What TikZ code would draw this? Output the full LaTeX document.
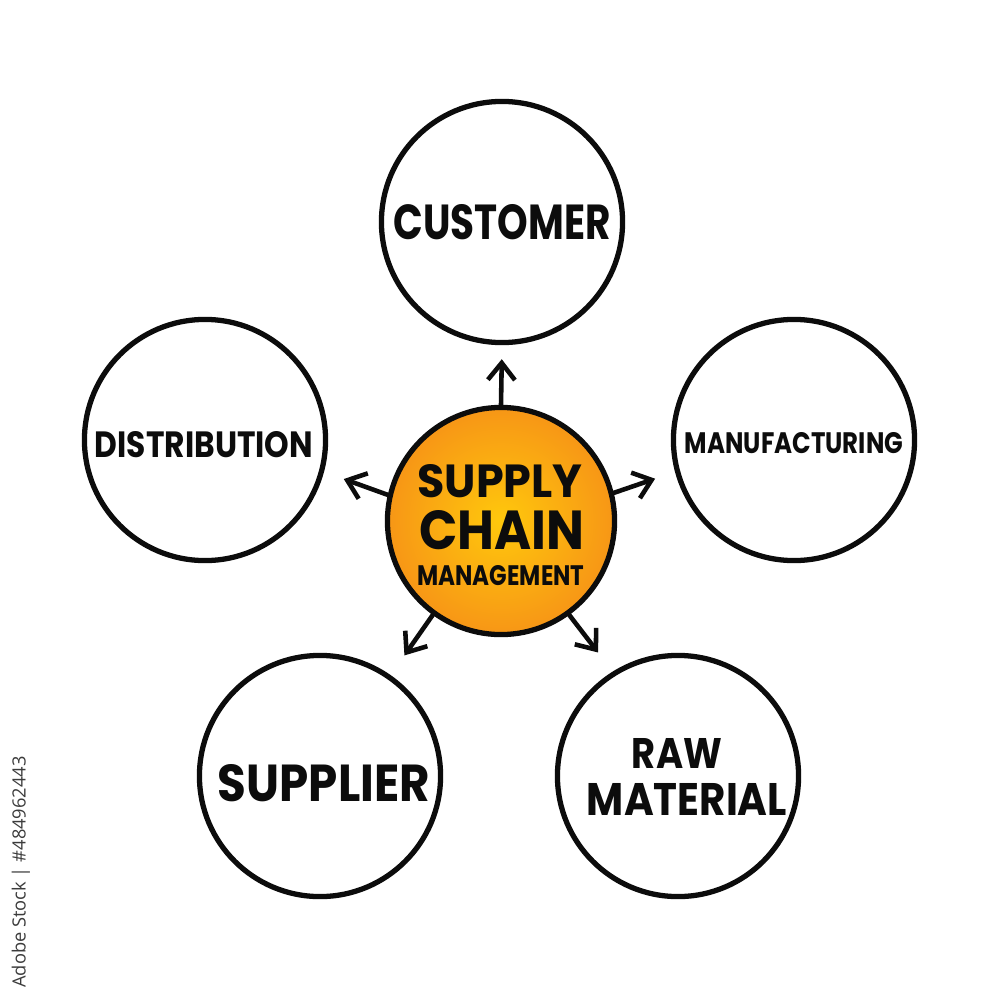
\documentclass[tikz,border=0pt]{standalone}
\usepackage{fontspec}
\setmainfont{Poppins}
\newfontfamily\wmfont{Open Sans}
\usetikzlibrary{arrows.meta}
\definecolor{ringline}{RGB}{12,12,12}
\definecolor{orin}{RGB}{255,200,12}
\definecolor{orout}{RGB}{247,150,22}
\definecolor{wmgray}{RGB}{60,60,60}
\newcommand\lbl[3]{\resizebox{#1}{#2}{\bfseries #3}}
\tikzset{
  ring/.style={circle, draw=ringline, line width=1.5pt, fill=white, minimum size=2.41cm, inner sep=0pt},
  hub/.style={circle, draw=ringline, line width=1.5pt, minimum size=2.27cm, inner sep=0pt, inner color=orin, outer color=orout},
  txt/.style={inner sep=0pt, text=ringline},
  arr/.style={line width=1.3pt, line cap=round, line join=round, draw=ringline, -{Straight Barb[length=1.7mm,width=2.7mm]}}
}
\begin{document}
\begin{tikzpicture}[x=0.01cm,y=-0.01cm]
\useasboundingbox (0,0) rectangle (1000,1000);
\fill[white] (0,0) rectangle (1000,1000);
% outer circles
\node[ring] (cust) at (502,222) {};
\node[ring] (dist) at (205,440) {};
\node[ring] (manu) at (794,440) {};
\node[ring] (supp) at (320,776) {};
\node[ring] (raw)  at (678,776) {};
% hub
\node[hub] (c) at (501,521) {};
% labels
\node[txt] (tcust) at (502,222) {\lbl{2.17cm}{0.35cm}{CUSTOMER}};
\node[txt] (tdist) at (204,445) {\lbl{2.18cm}{0.26cm}{DISTRIBUTION}};
\node[txt] (tmanu) at (794,443) {\lbl{2.18cm}{0.21cm}{MANUFACTURING}};
\node[txt] (tsupp) at (324,783) {\lbl{2.12cm}{0.37cm}{SUPPLIER}};
\node[txt] (traw1) at (677,753) {\lbl{0.90cm}{0.30cm}{RAW}};
\node[txt] (traw2) at (687,799) {\lbl{2.00cm}{0.32cm}{MATERIAL}};
\node[txt] (th1) at (500,481) {\lbl{1.65cm}{0.33cm}{SUPPLY}};
\node[txt] (th2) at (502,530) {\lbl{1.65cm}{0.39cm}{CHAIN}};
\node[txt] (th3) at (501,576) {\lbl{1.67cm}{0.20cm}{MANAGEMENT}};
% arrows
\draw[arr, shorten >=0.14cm] (c.90) -- (cust.270);
\draw[arr, shorten >=0.21cm] (c.167) -- (dist.-15);
\draw[arr, shorten >=0.21cm] (c.14) -- (manu.195);
\draw[arr, shorten >=0.24cm] (c.234) -- (supp.55);
\draw[arr, shorten >=0.24cm] (c.306) -- (raw.122);
% side credit
\node[inner sep=0pt, rotate=90, text=wmgray] (credit) at (21,872) {\resizebox{2.31cm}{!}{\wmfont Adobe Stock | \#484962443}};
\end{tikzpicture}
\end{document}
